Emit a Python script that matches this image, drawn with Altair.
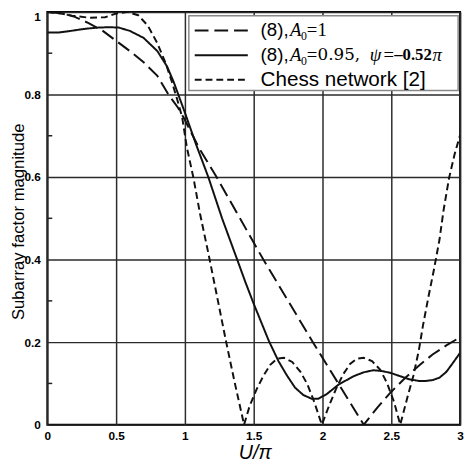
import altair as alt
import pandas as pd

# ---- data ----
a1_x = [0, 0.1, 0.2, 0.3, 0.4, 0.5, 0.6, 0.7, 0.8, 0.88, 0.95, 1.0, 1.1, 1.23, 1.4,
        1.57, 1.75, 1.93, 2.1, 2.3, 2.4, 2.5, 2.6, 2.7, 2.8, 2.9, 3.0]
a1_y = [1.0, 0.997, 0.988, 0.973, 0.955, 0.93, 0.905, 0.878, 0.845, 0.80, 0.768, 0.738,
        0.672, 0.60, 0.5, 0.40, 0.30, 0.20, 0.108, 0.0, 0.042, 0.08, 0.113, 0.143, 0.17,
        0.192, 0.212]

a95_x = [0, 0.08, 0.15, 0.23, 0.3, 0.37, 0.45, 0.52, 0.6, 0.7, 0.8, 0.87, 0.92, 0.955,
         1.0, 1.08, 1.17, 1.27, 1.38, 1.44, 1.5, 1.61, 1.68, 1.74, 1.8, 1.86, 1.92, 1.97,
         2.03, 2.12, 2.23, 2.3, 2.37, 2.43, 2.49, 2.56, 2.63, 2.7, 2.75, 2.8, 2.85, 2.9,
         2.94, 3.0]
a95_y = [0.95, 0.95, 0.953, 0.957, 0.96, 0.962, 0.963, 0.962, 0.954, 0.937, 0.905, 0.868,
         0.829, 0.797, 0.756, 0.68, 0.6, 0.5, 0.4, 0.345, 0.293, 0.203, 0.154, 0.12, 0.09,
         0.072, 0.063, 0.063, 0.074, 0.098, 0.118, 0.127, 0.132, 0.13, 0.126, 0.118, 0.11,
         0.106, 0.106, 0.108, 0.114, 0.128, 0.146, 0.174]

chess_x = [0, 0.1, 0.18, 0.3, 0.42, 0.5, 0.58, 0.66, 0.73, 0.8, 0.86, 0.907, 0.943, 0.98,
           1.014, 1.062, 1.11, 1.17, 1.24, 1.3, 1.36, 1.43, 1.47, 1.52, 1.57, 1.62, 1.67,
           1.72, 1.78, 1.84, 1.89, 1.94, 1.995, 2.05, 2.1, 2.15, 2.2, 2.25, 2.3, 2.36, 2.42,
           2.47, 2.52, 2.565, 2.62, 2.66, 2.7, 2.73, 2.77, 2.81, 2.85, 2.88, 2.92, 2.96, 3.0]
chess_y = [1.0, 0.996, 0.991, 0.986, 0.987, 0.996, 1.0, 0.992, 0.967, 0.924, 0.876, 0.829,
           0.789, 0.745, 0.672, 0.598, 0.511, 0.416, 0.3, 0.2, 0.105, 0.0, 0.045, 0.085,
           0.118, 0.145, 0.16, 0.162, 0.152, 0.128, 0.098, 0.055, 0.0, 0.048, 0.088, 0.122,
           0.147, 0.16, 0.162, 0.154, 0.133, 0.1, 0.055, 0.0, 0.07, 0.118, 0.18, 0.24, 0.31,
           0.376, 0.448, 0.52, 0.598, 0.655, 0.702]

x_ticks = [0, 0.5, 1, 1.5, 2, 2.5, 3]
y_ticks = [0, 0.2, 0.4, 0.6, 0.8, 1]
y_minor = [0.1, 0.3, 0.5, 0.7, 0.9]

series_names = ["A0=1", "A0=0.95", "Chess"]
series_dash = [[14, 6], [1, 0], [7, 4]]

x_title = "U/π"
y_title = "Subarray factor magnitude"

rows = []
for name, xs, ys in zip(series_names, [a1_x, a95_x, chess_x], [a1_y, a95_y, chess_y]):
    for i, (xv, yv) in enumerate(zip(xs, ys)):
        rows.append({"series": name, "x": xv, "y": yv, "order": i})
df = pd.DataFrame(rows)

one = alt.Data(values=[{}])

lines = alt.Chart(df).mark_line(color="#111", strokeWidth=2, clip=True).encode(
    x=alt.X("x:Q", scale=alt.Scale(domain=[0, 3], nice=False),
            axis=alt.Axis(values=x_ticks, format="~g", title=x_title, grid=True,
                          ticks=False, domain=False, labelFont="Liberation Sans",
                          labelFontWeight="bold", labelFontSize=12, labelColor="black",
                          labelPadding=6, labelFlush=False,
                          titleFont="Liberation Sans", titleFontSize=20,
                          titleFontStyle="italic", titleFontWeight="normal",
                          titleColor="black", titleX=211, titleY=34,
                          titleBaseline="alphabetic", titleAlign="center")),
    y=alt.Y("y:Q", scale=alt.Scale(domain=[0, 1], nice=False),
            axis=alt.Axis(values=y_ticks, format="~g", title=y_title, grid=True,
                          ticks=False, domain=False, labelFont="Liberation Sans",
                          labelFontWeight="bold", labelFontSize=12, labelColor="black",
                          labelPadding=7, labelFlush=False,
                          labelBaseline={"condition": {"test": "datum.value == 1",
                                                       "value": "top"},
                                         "value": "middle"},
                          titleFont="Liberation Sans", titleFontSize=17,
                          titleFontWeight="normal", titleColor="black",
                          titleX=-24, titleY=213, titleAngle=-90,
                          titleBaseline="alphabetic", titleAlign="center")),
    strokeDash=alt.StrokeDash("series:N", scale=alt.Scale(domain=series_names,
                                                          range=series_dash), legend=None),
    order="order:Q",
)

minor = alt.Chart(pd.DataFrame({"y": y_minor})).mark_rule(color="#222", strokeWidth=1.5).encode(
    y="y:Q", x=alt.value(0), x2=alt.value(5)
)

box = alt.Chart(one).mark_rect(fill="white", stroke="#888", strokeWidth=1.5).encode(
    x=alt.value(144), x2=alt.value(418), y=alt.value(4), y2=alt.value(80)
)

legend_rows_y = [19, 44, 69]
samples = [
    alt.Chart(one).mark_rule(color="#111", strokeWidth=2, strokeDash=d).encode(
        x=alt.value(150), x2=alt.value(204), y=alt.value(yy))
    for d, yy in zip(series_dash, legend_rows_y)
]


def txt(s, x, y, font="Liberation Sans", size=19, style="normal", weight="normal"):
    return alt.Chart(one).mark_text(align="left", baseline="middle", font=font,
                                    fontSize=size, fontStyle=style, fontWeight=weight,
                                    color="black").encode(
        x=alt.value(x), y=alt.value(y), text=alt.value(s))


serif = "Liberation Serif"
dserif = "DejaVu Serif"
texts = [
    txt("(8),", 217, 19), txt("A", 247, 19, serif, 19, "italic"),
    txt("0", 258, 25, serif, 12), txt("=", 264, 19, serif, 19),
    txt("1", 275, 19, serif, 19),
    txt("(8),", 217, 44), txt("A", 247, 44, serif, 19, "italic"),
    txt("0", 258, 50, serif, 12), txt("=", 264, 44, serif, 19),
    txt("0.95,", 275, 44, dserif, 17),
    txt("ψ", 328, 44, serif, 19, "italic"), txt("=", 342, 44, serif, 19),
    txt("–0.52", 353, 44, serif, 17, "normal", "bold"),
    txt("π", 392, 44, serif, 19, "italic"),
    txt("Chess network [2]", 217, 69, size=21),
]

chart = alt.layer(lines, minor, box, *samples, *texts).properties(
    width=420, height=420,
    autosize=alt.AutoSizeParams(type="none"),
    padding={"left": 40, "top": 0, "right": 6, "bottom": 36},
    background="white",
).configure_view(stroke="black", strokeWidth=2).configure_axis(
    gridColor="#2b2b2b", gridWidth=1.5, gridOpacity=1
)

chart.save("out.html", embed_options={"renderer": "svg", "actions": False})
